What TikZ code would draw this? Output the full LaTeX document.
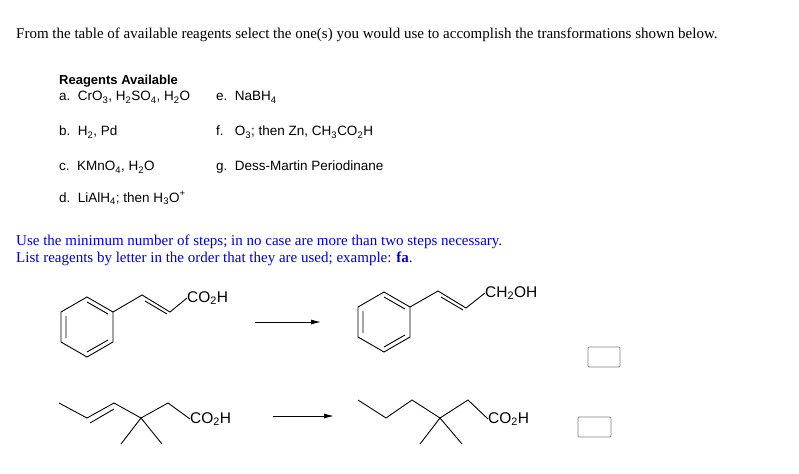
\documentclass[tikz,border=0pt]{standalone}
\usepackage{fontspec}
\setmainfont{Liberation Serif}
\newfontfamily\arial{Liberation Sans}
\usetikzlibrary{arrows.meta}
\tikzset{
 bond/.style={line width=0.9pt},
 rg/.style={anchor=base west,inner sep=0pt,font=\arial\fontsize{13.5}{15}\selectfont},
 lab/.style={anchor=west,inner sep=0pt,font=\arial\fontsize{15.5}{17}\selectfont},
 ans/.style={draw=gray,line width=0.8pt,rounded corners=1pt},
 rxn/.style={line width=1pt,-{Latex[length=10pt,width=5pt]}}
}
\begin{document}
\begin{tikzpicture}[x=1pt,y=-1pt]
\useasboundingbox (0,0) rectangle (799,473);
\node[anchor=base west,inner sep=0pt,font=\fontsize{15}{17}\selectfont] (title) at (16,39) {From the table of available reagents select the one(s) you would use to accomplish the transformations shown below.};
\node[rg,font=\arial\bfseries\fontsize{13}{15}\selectfont] (hd) at (59,85) {Reagents Available};
\node[rg] (ra) at (59,101) {a.\ \ CrO\textsubscript{3}, H\textsubscript{2}SO\textsubscript{4}, H\textsubscript{2}O};
\node[rg] (rb) at (59,136) {b.\ \ H\textsubscript{2}, Pd};
\node[rg] (rc) at (59,171) {c.\ \ KMnO\textsubscript{4}, H\textsubscript{2}O};
\node[rg] (rd) at (59,202) {d.\ \ LiAlH\textsubscript{4}; then H\textsubscript{3}O\textsuperscript{+}};
\node[rg] (re) at (216,101) {e.\ \ NaBH\textsubscript{4}};
\node[rg] (rf) at (216,136) {f.\ \ \ O\textsubscript{3}; then Zn, CH\textsubscript{3}CO\textsubscript{2}H};
\node[rg] (rgg) at (216,171) {g.\ \ Dess-Martin Periodinane};
\node[anchor=base west,inner sep=0pt,text=blue!85!black,font=\fontsize{15}{17}\selectfont] (u1) at (16,245) {Use the minimum number of steps; in no case are more than two steps necessary.};
\node[anchor=base west,inner sep=0pt,text=blue!85!black,font=\fontsize{15}{17}\selectfont] (u2) at (16,262) {List reagents by letter in the order that they are used; example: \textbf{fa}.};
% molecule 1
\coordinate (A0) at (87,297);\coordinate (A1) at (113,312);\coordinate (A2) at (113,342);
\coordinate (A3) at (87,357);\coordinate (A4) at (61,342);\coordinate (A5) at (61,312);
\draw[bond] (A0)--(A1)--(A2)--(A3)--(A4)--(A5)--cycle;
\draw[bond] (66,316)--(66,338) (87,352)--(108,340) (87,302)--(108,314);
\coordinate (B1) at (142,295);\coordinate (B2) at (170,312);
\node[lab] (c1) at (187,298) {CO\textsubscript{2}H};
\draw[bond] (A1)--(B1)--(B2)--(c1.west);
\draw[bond] (145,301)--(167,314);
% molecule 2
\coordinate (P0) at (384,292);\coordinate (P1) at (410,307);\coordinate (P2) at (410,337);
\coordinate (P3) at (384,352);\coordinate (P4) at (358,337);\coordinate (P5) at (358,307);
\draw[bond] (P0)--(P1)--(P2)--(P3)--(P4)--(P5)--cycle;
\draw[bond] (363,311)--(363,333) (384,347)--(405,335) (384,297)--(405,309);
\coordinate (Q1) at (438,291);\coordinate (Q2) at (466,308);
\node[lab] (c2) at (485,293) {CH\textsubscript{2}OH};
\draw[bond] (P1)--(Q1)--(Q2)--(c2.west);
\draw[bond] (441,297)--(463,310);
% arrows
\coordinate (ar1s) at (255,322);\coordinate (ar1e) at (321,322);
\draw[rxn] (ar1s)--(ar1e);
\coordinate (ar2s) at (273,416);\coordinate (ar2e) at (334,416);
\draw[rxn] (ar2s)--(ar2e);
% molecule 3
\coordinate (M1) at (59,403);\coordinate (M2) at (87,418);\coordinate (M3) at (114,403);
\coordinate (M4) at (141,418);\coordinate (M5) at (121,444);\coordinate (M6) at (162,444);
\coordinate (M7) at (168,403);
\node[lab] (c3) at (190,419) {CO\textsubscript{2}H};
\draw[bond] (M1)--(M2)--(M3)--(M4)--(M7)--(c3.west) (M5)--(M4)--(M6);
\draw[bond] (90,423)--(114,409);
% molecule 4
\coordinate (N1) at (358,400);\coordinate (N2) at (386,418);\coordinate (N3) at (412,400);
\coordinate (N4) at (440,418);\coordinate (N5) at (420,444);\coordinate (N6) at (462,444);
\coordinate (N7) at (468,400);
\node[lab] (c4) at (488,419) {CO\textsubscript{2}H};
\draw[bond] (N1)--(N2)--(N3)--(N4)--(N7)--(c4.west) (N5)--(N4)--(N6);
% boxes
\draw[ans] (588,347) rectangle (620,367);
\draw[ans] (578,417) rectangle (611,437);
\end{tikzpicture}
\end{document}
